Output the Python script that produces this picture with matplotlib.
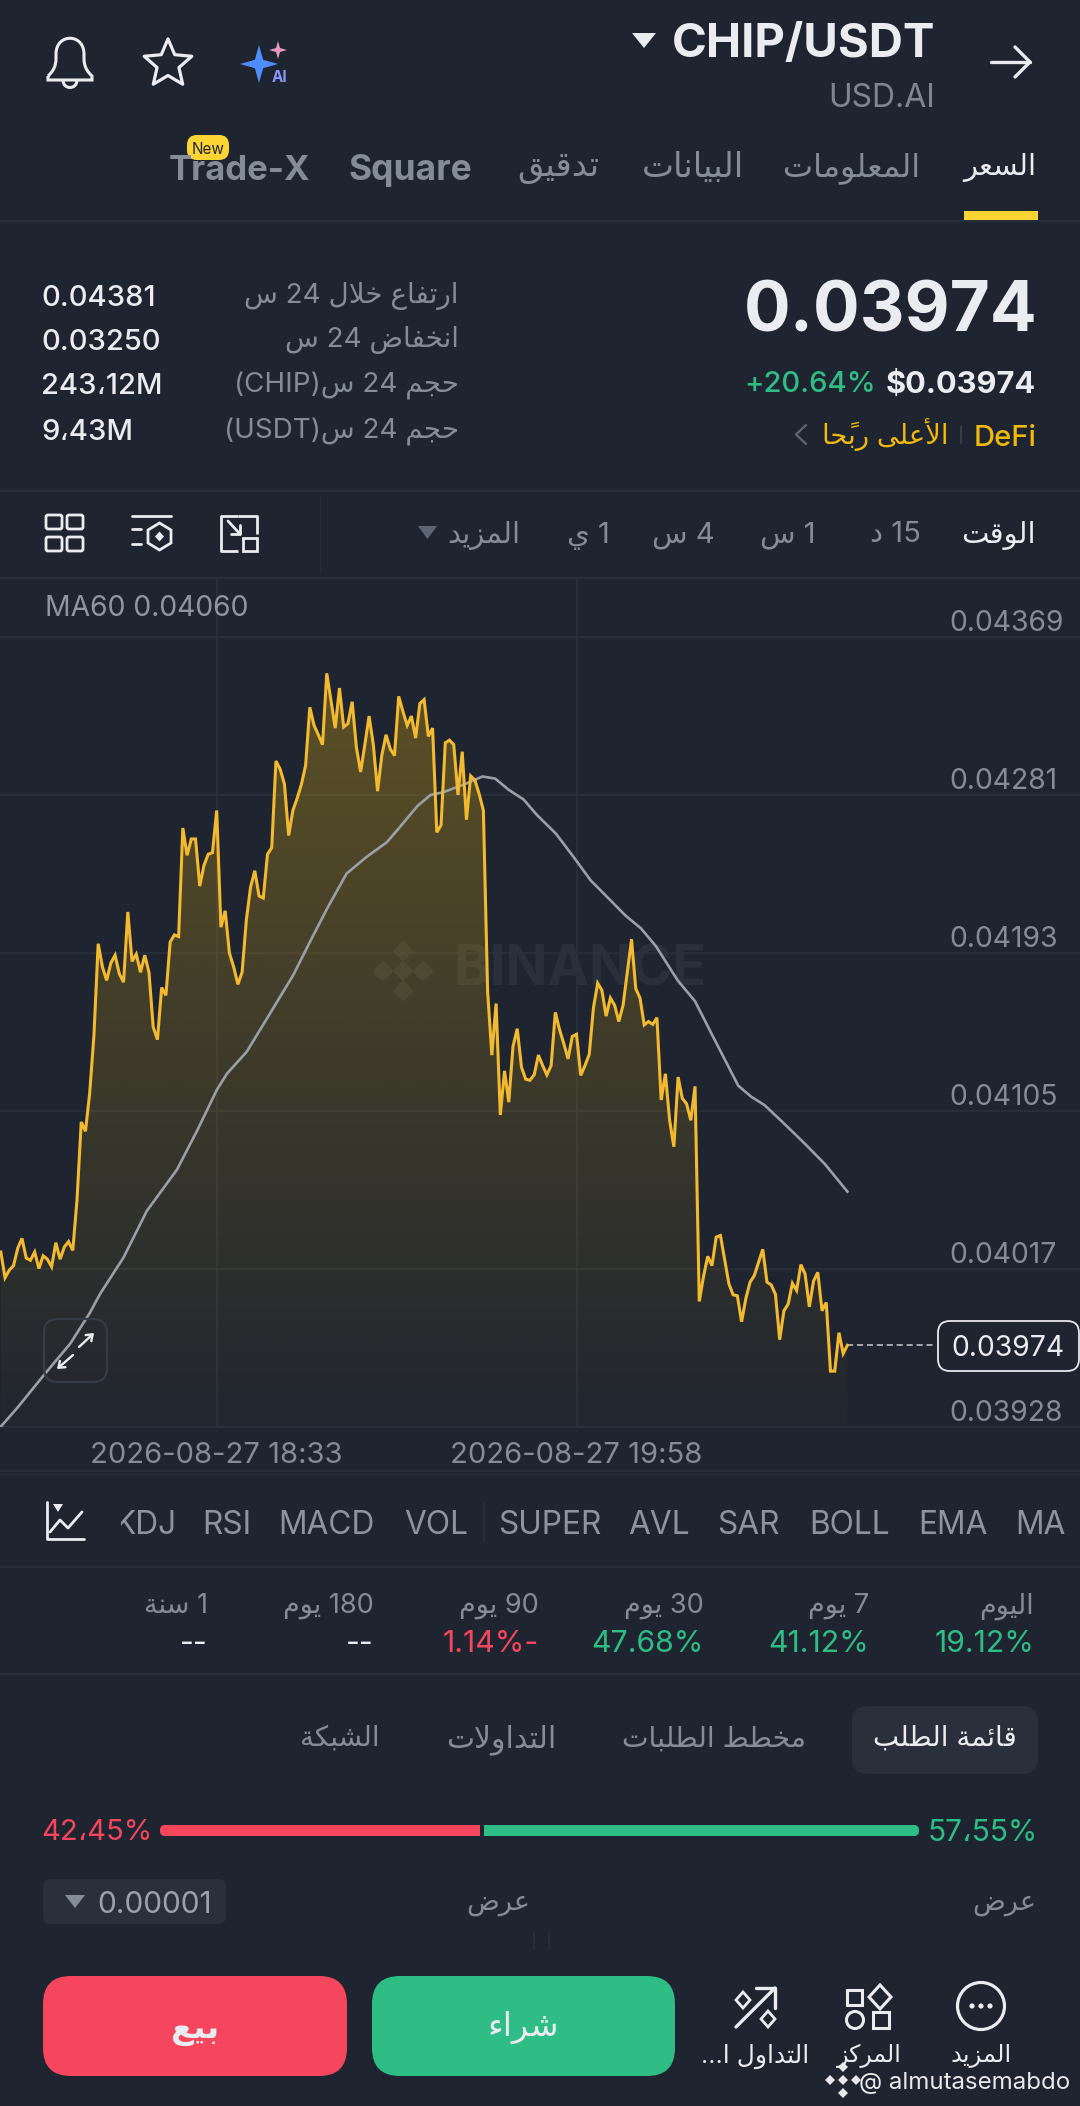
import re
import numpy as np
import matplotlib
matplotlib.use("Agg")
import matplotlib.pyplot as plt
from matplotlib.patches import FancyBboxPatch, Polygon, Circle, Rectangle, PathPatch, FancyArrowPatch
from matplotlib.path import Path

plt.rcParams['font.family'] = ['Inter', 'DejaVu Sans']

# ---------- data (price in units of 1e-5 USDT, one sample per minute) ----------
first_minute = -51   # minutes relative to 18:33
price_e5 = [
 4026.4,4012.1,4016.3,4018.8,4028.5,4034,4023,4021.8,4026.4,4017.2,4024.3,4022.4,4018.2,4031.6,4022.4,4029.2,4032.2,4027.3,
 4055.4,4098.8,4093.6,4115,4147,4198,4185.2,4177.6,4187.3,4191.6,4181.2,4176.6,4215.7,4188.2,4192.2,4182.1,4191.6,4182.1,
 4151.6,4144.6,4173.6,4169.3,4198.9,4202.9,4202,4262.4,4247.2,4256.3,4256.3,4230.1,4241.7,4247.8,4248.7,4272.2,
 4207.2,4216.3,4192.8,4185.2,4175.4,4182.1,4211.1,4229.5,4238.6,4224.6,4223.4,4247.8,4251.4,4299.7,4295.1,4286.9,4258.2,
 4272.2,4278.9,4286.6,4297.2,4329.6,4319.5,4314.3,4308.8,4348.5,4333.3,4318,4340.3,4318.6,4320.5,4332.7,4307.3,4293.6,
 4308.8,4324.7,4308.8,4282.9,4302.7,4314.3,4306.4,4302.7,4335.7,4327.2,4319.5,4324.7,4312.5,4331.7,4333.9,4313.4,4318,
 4260,4264,4309.8,4311.3,4308.8,4280.8,4304.9,4267,4291.4,4289,4281.4,4272.2,4171.4,4136,4164.7,4102.7,4127.2,4109.8,
 4140.9,4150.7,4129.3,4122.6,4122,4125,4136,4130.2,4125,4130.2,4159.8,4150.1,4142.4,4133.9,4146.4,4147.6,4124.7,4130.2,
 4136.3,4162.3,4176,4172.1,4157.7,4167.8,4163.8,4154.7,4163.8,4182.1,4200.5,4173,4167.8,4152.8,4154.7,4153.1,4156.8,
 4111,4125.6,4099.7,4085,4123.8,4111.9,4108.9,4099.7,4118.6,3998.9,4012.7,4024,4018.8,4034.7,4035.6,4022.1,4008.7,4002.6,
 4002,3987.6,4000.5,4009.6,4013.3,4020.6,4027.9,4009.6,4008.1,4002.9,3977.6,3993.7,3997.4,4009,4005,4019.4,4014.2,3995.9,
 4010.2,4015.1,3993.7,3998.3,3960.1,3960.1,3981.5,3969.9,3974.5]
ma_minutes = [-51.2,-47.2,-40.9,-34.6,-29.9,-27.6,-22,-16.5,-9.4,-4.7,0,2.4,7.1,12.6,18.1,22,26,30.7,35.4,40.2,43.3,
 47.4,50.5,53.5,58.7,62.8,65.8,68.9,72.5,75.6,80.2,84.3,88.4,92.5,96.6,100.2,103.8,108.9,113,117.1,123.2,126.3,129.4,133.5,138.6,143.7,149]
ma_e5 = [3928.7,3939.4,3957.7,3975.4,3992.8,4002.9,4023.4,4049.3,4072.2,4093.6,4116.5,4125.6,4137.9,4159.2,4180.6,4198.9,4217.2,4237.1,4246.3,4254.5,4263,
 4274.6,4280.8,4282.3,4286.9,4291.1,4289.9,4283.8,4278.3,4269.8,4259.1,4246.3,4233.1,4223.4,4213.6,4206.6,4196.5,4177.6,4166,4147,4119,4112.8,4108.2,4099.1,4087.5,4075.3,4060]
y_ticks_e5 = [4369, 4281, 4193, 4105, 4017, 3929]
y_tick_labels = ['0.04369', '0.04281', '0.04193', '0.04105', '0.04017', '0.03928']
x_ticks_min = [0, 85]
x_tick_labels = ['2026-08-27 18:33', '2026-08-27 19:58']
last_price_label = '0.03974'
stat_labels = ['ارتفاع خلال 24 س', 'انخفاض 24 س', 'حجم 24 س(CHIP)', 'حجم 24 س(USDT)']
stat_values = ['0.04381', '0.03250', '243،12M', '9،43M']
period_labels = ['اليوم', '7 يوم', '30 يوم', '90 يوم', '180 يوم', '1 سنة']
period_values = ['19.12%', '41.12%', '47.68%', '1.14%-', '--', '--']
indicators = ['MA', 'EMA', 'BOLL', 'SAR', 'AVL', 'SUPER', 'VOL', 'MACD', 'RSI', 'KDJ']

BG = '#1E2430'; GRID = '#2C323D'; SEP = '#2C323D'; GREY = '#848C98'; WHITE = '#EAECEF'
GOLD = '#F0B90B'; LINE = '#F3BA2F'; GREEN = '#2EBD85'; RED = '#F6465D'; PILL = '#2A303B'

# ---------- Arabic shaping (matplotlib has no shaping / bidi) ----------
_four = {'ئ':0xFE89,'ب':0xFE8F,'ت':0xFE95,'ث':0xFE99,'ج':0xFE9D,'ح':0xFEA1,'خ':0xFEA5,'س':0xFEB1,'ش':0xFEB5,'ص':0xFEB9,
         'ض':0xFEBD,'ط':0xFEC1,'ظ':0xFEC5,'ع':0xFEC9,'غ':0xFECD,'ف':0xFED1,'ق':0xFED5,'ك':0xFED9,'ل':0xFEDD,'م':0xFEE1,
         'ن':0xFEE5,'ه':0xFEE9,'ي':0xFEF1}
_two = {'آ':0xFE81,'أ':0xFE83,'ؤ':0xFE85,'إ':0xFE87,'ا':0xFE8D,'ة':0xFE93,'د':0xFEA9,'ذ':0xFEAB,'ر':0xFEAD,'ز':0xFEAF,'و':0xFEED,'ى':0xFEEF}
_lamalef = {'ا':0xFEFB,'أ':0xFEF7,'إ':0xFEF9,'آ':0xFEF5}
_marks = '\u064b\u064c\u064d\u064e\u064f\u0650\u0651\u0652'

def _shape_word(w):
    clusters = []
    for ch in w:
        if ch in _marks and clusters:
            clusters[-1][1] += ch
        else:
            clusters.append([ch, ''])
    out = []; i = 0; n = len(clusters); prev_joins = False
    while i < n:
        ch, m = clusters[i]
        if ch == 'ل' and i + 1 < n and clusters[i+1][0] in _lamalef:
            base = _lamalef[clusters[i+1][0]]
            out.append(chr(base + (1 if prev_joins else 0)) + m)
            prev_joins = False; i += 2; continue
        next_ok = i + 1 < n and (clusters[i+1][0] in _four or clusters[i+1][0] in _two)
        if ch in _four:
            b = _four[ch]
            form = (3 if next_ok else 1) if prev_joins else (2 if next_ok else 0)
            out.append(chr(b + form) + m); prev_joins = next_ok
        elif ch in _two:
            out.append(chr(_two[ch] + (1 if prev_joins else 0)) + m); prev_joins = False
        else:
            out.append(ch + m); prev_joins = False
        i += 1
    return out

def ar(s):
    toks = re.findall(r'[\u0600-\u06ff]+|[^\u0600-\u06ff]+', s)
    res = []
    for t in reversed(toks):
        if re.match(r'[\u0600-\u06ff]', t):
            res.append(''.join(reversed(_shape_word(t))))
        else:
            core = t.strip(' ')
            lead = len(t) - len(t.lstrip(' ')); trail = len(t) - len(t.rstrip(' '))
            if core:
                res.append(' '*trail + core + ' '*lead)
            else:
                res.append(t)
    return ''.join(res)

# ---------- figure ----------
W, H = 1080, 2106
fig = plt.figure(figsize=(W/100, H/100), dpi=100, facecolor=BG)
CH_TOP, CH_BOT = 578, 1427
ax = fig.add_axes([0, (H-CH_BOT)/H, 1, (CH_BOT-CH_TOP)/H], facecolor='none', zorder=1)
ui = fig.add_axes([0, 0, 1, 1], facecolor='none', zorder=2)
ui.set_xlim(0, W); ui.set_ylim(H, 0); ui.axis('off')

def T(x, y, s, size=18, color=WHITE, ha='center', weight='normal', va='center_baseline', **kw):
    return ui.text(x, y, s, fontsize=size, color=color, ha=ha, va=va, fontweight=weight, **kw)

def L(xs, ys, color=WHITE, lw=2.2, **kw):
    ui.plot(xs, ys, color=color, lw=lw, solid_capstyle=kw.pop('cap', 'round'), **kw)

def RR(x0, y0, x1, y1, r, fc='none', ec='none', lw=0, **kw):
    ui.add_patch(FancyBboxPatch((x0+r, y0+r), x1-x0-2*r, y1-y0-2*r, boxstyle=f'round,pad={r}', fc=fc, ec=ec, lw=lw, **kw))

# ---------- chart ----------
px_per_min = 4.233; x0_px = 216.7; px_per_unit = 158.1/88
ax.set_xlim((0-x0_px)/px_per_min, (W-x0_px)/px_per_min)
ylim = (3929, 4369 + (636.5-CH_TOP)/px_per_unit)
ax.set_ylim(*ylim)
minutes = first_minute + np.arange(len(price_e5))
price = np.array(price_e5)

ax.text(580, 971, 'BINANCE', transform=ui.transData, fontsize=40, fontweight='bold', color='#2A303B', ha='center', va='center', zorder=0.5)
for dx, dy, r in [(0,-20,10.5),(0,20,10.5),(-20,0,10.5),(20,0,10.5),(0,0,10.5)]:
    ax.add_patch(Polygon([(403+dx-r,971+dy),(403+dx,971+dy-r),(403+dx+r,971+dy),(403+dx,971+dy+r)],
                 closed=True, fc='#2A303B', ec='none', transform=ui.transData, zorder=0.5))

poly = ax.fill_between(minutes, price, ylim[0], color='none')
grad = np.zeros((256, 2, 4))
grad[..., 0] = 0xF0/255; grad[..., 1] = 0xB9/255; grad[..., 2] = 0x0B/255
grad[..., 3] = np.linspace(0.30, 0.015, 256)[:, None]
im = ax.imshow(grad, extent=(minutes[0], minutes[-1], ylim[0], 4350), origin='upper', aspect='auto', zorder=1)
im.set_clip_path(poly.get_paths()[0], transform=ax.transData)
ax.set_xlim((0-x0_px)/px_per_min, (W-x0_px)/px_per_min); ax.set_ylim(*ylim)

ax.plot(ma_minutes, ma_e5, color='#9AA0A8', lw=1.9, zorder=3)
ax.plot(minutes, price, color=LINE, lw=2.2, zorder=4, solid_joinstyle='miter')
ax.plot([minutes[-1], (935-x0_px)/px_per_min], [price[-1]]*2, color='#C9CCD1', lw=1.1, ls=(0, (4, 2.5)), zorder=3)

ax.set_yticks(y_ticks_e5, y_tick_labels)
ax.set_xticks(x_ticks_min, x_tick_labels)
ax.grid(True, color=GRID, lw=1.1, zorder=0)
ax.set_axisbelow(True)
ax.yaxis.tick_right()
ax.tick_params(axis='y', length=0, pad=-131*0.72, labelsize=20.4, labelcolor=GREY)
ax.tick_params(axis='x', length=0, pad=10.5, labelsize=21, labelcolor=GREY)
for lab in ax.get_yticklabels():
    lab.set_va('bottom')
for name, s in ax.spines.items():
    s.set_visible(name == 'bottom'); s.set_color(GRID); s.set_linewidth(1.1)

T(45, 605, 'MA60 0.04060', 20.4, '#8F96A1', ha='left')
RR(938, 1321, 1079, 1371, 12, ec='#E8EAED', lw=1.3, fc=BG)
T(1008, 1346, last_price_label, 20.4, WHITE)
RR(44, 1319, 107, 1382, 14, ec='#353C48', lw=1.6)
for (a, b) in [((73,1355),(57,1369)), ((79,1347),(94,1333))]:
    ui.add_patch(FancyArrowPatch(a, b, arrowstyle='->,head_length=4,head_width=3', color=WHITE, lw=1.7, shrinkA=0, shrinkB=0))

# ---------- header ----------
bell = Path([(48,76),(57,68),(56,60),(56,54),(56,33),(84,33),(84,54),(84,60),(83,68),(92,76),(92,80),(48,80),(48,76)],
            [1,4,4,4,4,4,4,4,4,4,2,2,2])
ui.add_patch(PathPatch(bell, fc='none', ec=WHITE, lw=2.2))
ui.add_patch(PathPatch(Path([(63,80),(63,90),(77,90),(77,80)],[1,4,4,4]), fc='none', ec=WHITE, lw=2.2))
a = np.deg2rad(-90 + 36*np.arange(10)); rr = np.where(np.arange(10) % 2 == 0, 25, 11.5)
ui.add_patch(Polygon(np.c_[168+rr*np.cos(a), 64+rr*np.sin(a)], closed=True, fc='none', ec=WHITE, lw=2.3, joinstyle='round'))
def spark(cx, cy, rx, ry, c):
    k = 0.22
    ui.add_patch(Polygon([(cx,cy-ry),(cx+rx*k,cy-ry*k),(cx+rx,cy),(cx+rx*k,cy+ry*k),(cx,cy+ry),(cx-rx*k,cy+ry*k),(cx-rx,cy),(cx-rx*k,cy-ry*k)],
                         closed=True, fc=c, ec='none'))
spark(259, 64, 19, 19, '#4F8CFF')
spark(278, 50, 9, 9, '#E79AC0')
T(279, 76, 'AI', 11, '#8A97F5', weight='bold')
L([991, 1030], [62, 62], WHITE, 2.4)
L([1015, 1030, 1015], [47, 62, 77], WHITE, 2.4)
ui.add_patch(Polygon([(632,33),(656,33),(644,48)], closed=True, fc=WHITE, ec='none'))
T(935, 40, 'CHIP/USDT', 34, WHITE, ha='right', weight='bold')
T(935, 95, 'USD.AI', 23, '#7F8692', ha='right')

tabs = [(1036,'السعر',WHITE,21),(920,'المعلومات',GREY,23),(744,'البيانات',GREY,24.5),(599,'تدقيق',GREY,24.5)]
for x, s, c, sz in tabs:
    T(x, 164, ar(s), sz, c, ha='right')
T(472, 167, 'Square', 25.5, GREY, ha='right', weight='bold')
T(310, 167, 'Trade-X', 25, GREY, ha='right', weight='bold')
RR(187, 135, 229, 160, 10, fc='#FCD535')
T(208, 148, 'New', 11, '#1E2329')
ui.add_patch(Rectangle((964, 211), 74, 9, fc='#FCD535', ec='none', zorder=3))
for y in [220.5, 490.5, 578, 1470.5, 1566.5, 1674]:
    L([0, W], [y, y], SEP, 1.1, cap='butt')
L([0, W], [1474, 1474], '#272D37', 1.0, cap='butt')

for y, lab, val in zip([296, 340, 385, 431], stat_labels, stat_values):
    T(459, y-3, ar(lab), 20, GREY, ha='right')
    T(41, y-1, val, 21, WHITE, ha='left', weight='medium')
T(1038, 306, '0.03974', 50, WHITE, ha='right', weight='bold')
T(876, 382, '+20.64%', 21, GREEN, ha='right', weight='medium')
T(1036, 382, '$0.03974', 22.2, WHITE, ha='right', weight='bold')
T(1036, 435, 'DeFi', 21, GOLD, ha='right', weight='medium')
T(949, 431, ar('الأعلى ربحًا'), 19.7, GOLD, ha='right')
L([961, 961], [427, 443], '#3A3F47', 1.5)
L([806, 796, 806], [425, 434.5, 444], '#5E6673', 1.6)

# time row
for x, s, c in [(1036,'الوقت',WHITE),(921,'15 د',GREY),(816,'1 س',GREY),(715,'4 س',GREY),(610,'1 ي',GREY),(520,'المزيد',GREY)]:
    T(x, 532, ar(s), 21, c, ha='right')
ui.add_patch(Polygon([(418,526),(437,526),(427.5,539)], closed=True, fc='#5E6673', ec='none'))
L([320, 320], [496, 572], '#262C37', 1.0)
for x0, y0 in [(46,515),(67,515),(46,537),(67,537)]:
    RR(x0, y0, x0+16, y0+14, 2, ec=WHITE, lw=2)
L([132,171],[516,516],WHITE,2); L([132,141],[529,529],WHITE,2); L([132,141],[544,544],WHITE,2)
ui.add_patch(Polygon([(159.5,523),(171,530),(171,543),(159.5,550),(148,543),(148,530)], closed=True, fc='none', ec=WHITE, lw=2))
ui.add_patch(Polygon([(159.5,531.5),(164,536.5),(159.5,541.5),(155,536.5)], closed=True, fc=WHITE, ec='none'))
L([238,221,221,238],[516,516,551,551],WHITE,2,cap='butt')
L([238,257,257],[516,516,534],WHITE,2,cap='butt')
ui.add_patch(Rectangle((243,538),14,13,fc='none',ec=WHITE,lw=2))
L([228,240],[521,534],WHITE,2); L([240,240,231],[525,534,534],WHITE,2)

# ---------- indicators ----------
ind_right = [1066, 988, 890, 780, 690, 601, 468, 375, 251, 176]
for x, s in zip(ind_right, indicators):
    T(x, 1522, s, 22.8, '#8D949F', ha='right')
ui.add_patch(Rectangle((92, 1495), 29, 50, fc=BG, ec='none', zorder=5))
L([484,484],[1502,1542],'#2A303B',1.1)
L([47,47,84],[1502,1539,1539],WHITE,2)
L([50,60,68,82],[1532,1520,1528,1512],WHITE,2)
ui.add_patch(Polygon([(53,1504),(63,1504),(58,1512)], closed=True, fc=WHITE, ec='none'))

per_right = [1034, 869, 704, 538.5, 374, 208]
for x, lab, val in zip(per_right, period_labels, period_values):
    T(x, 1603, ar(lab), 19.5, GREY, ha='right')
    c = WHITE if val == '--' else (RED if val.endswith('-') else GREEN)
    T(x, 1641, val, 21.8, c, ha='right')

# ---------- order book tabs ----------
RR(852, 1706, 1038, 1774, 16, fc=PILL)
T(945, 1736, ar('قائمة الطلب'), 20, WHITE)
T(806, 1736, ar('مخطط الطلبات'), 20.3, GREY, ha='right')
T(556, 1736, ar('التداولات'), 21.5, GREY, ha='right')
T(380, 1736, ar('الشبكة'), 20, GREY, ha='right')

T(41, 1830, '42،45%', 21, RED, ha='left')
T(1038, 1830, '57،55%', 21.5, GREEN, ha='right')
RR(160, 1825, 300, 1836, 5, fc=RED)
ui.add_patch(Rectangle((200, 1825), 280, 11, fc=RED, ec='none'))
RR(700, 1825, 919, 1836, 5, fc=GREEN)
ui.add_patch(Rectangle((484, 1825), 300, 11, fc=GREEN, ec='none'))

RR(43, 1879, 226, 1924, 8, fc=PILL)
ui.add_patch(Polygon([(65,1895),(85,1895),(75,1908)], closed=True, fc='#848C98', ec='none'))
T(212, 1902, '0.00001', 21.5, '#9AA1AC', ha='right')
T(1036, 1900, ar('عرض'), 19.5, GREY, ha='right')
T(530, 1900, ar('عرض'), 19.5, GREY, ha='right')
L([534,534],[1933,1949],'#2A2E38',1.2); L([549,549],[1933,1949],'#2A2E38',1.2)

# ---------- bottom bar ----------
RR(43, 1976, 347, 2076, 28, fc=RED)
RR(372, 1976, 675, 2076, 28, fc=GREEN)
T(195, 2026, ar('بيع'), 24, WHITE, weight='bold')
T(523, 2024, ar('شراء'), 24, WHITE)
ui.add_patch(Circle((981, 2006), 23.5, fc='none', ec=WHITE, lw=2.3))
for dx in [-9, 0, 9]:
    ui.add_patch(Circle((981+dx, 2006), 2.6, fc=WHITE, ec='none'))
ui.add_patch(Rectangle((847,1990),15,15,fc='none',ec=WHITE,lw=2.2))
ui.add_patch(Polygon([(880,1985),(891,1997),(880,2009),(869,1997)],closed=True,fc='none',ec=WHITE,lw=2.2))
ui.add_patch(Circle((855,2020),8.5,fc='none',ec=WHITE,lw=2.2))
ui.add_patch(Rectangle((873,2012),16,16,fc='none',ec=WHITE,lw=2.2))
L([736,775],[2027,1988],WHITE,2.4); L([756,775,775],[1988,1988,2008],WHITE,2.4)
ui.add_patch(Polygon([(743,1992),(750,2000),(743,2008),(736,2000)],closed=True,fc='none',ec=WHITE,lw=2))
ui.add_patch(Polygon([(768,2011),(775,2019),(768,2027),(761,2019)],closed=True,fc='none',ec=WHITE,lw=2))
T(981, 2053, ar('المزيد'), 17.5, WHITE)
T(869, 2053, ar('المركز'), 17, WHITE)
T(755, 2053, ar('التداول ا...'), 18, WHITE)
T(1070, 2080, '@ almutasemabdo', 17.3, '#E8E8E8', ha='right')
for dx, dy in [(0,-13),(0,13),(-13,0),(13,0),(0,0)]:
    ui.add_patch(Polygon([(843+dx-5,2080+dy),(843+dx,2080+dy-5),(843+dx+5,2080+dy),(843+dx,2080+dy+5)],closed=True,fc='#E8E8E8',ec='none'))

fig.savefig('out.png', dpi=100, facecolor=BG)
